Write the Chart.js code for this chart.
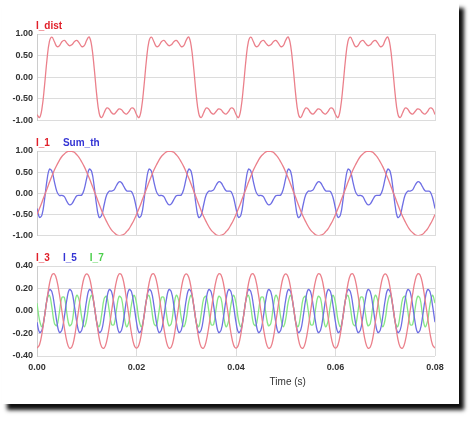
<!DOCTYPE html>
<html lang="en">
<head>
  <meta charset="UTF-8" />
  <title>Harmonic decomposition</title>
  <script src="https://cdn.jsdelivr.net/npm/chart.js"></script>
  <style>
    body { margin: 0; background: #fff; }
    .panel {
      position: absolute; left: 2px; top: 2px; width: 457px; height: 402px;
      background: #fff; box-shadow: 5px 6px 4px #101010;
    }
    canvas { position: absolute; left: 0; filter: blur(0.45px); }
    #c1 { top: 0; }
    #c2 { top: 130px; }
    #c3 { top: 245px; }
  </style>
</head>
<body>
  <div class="panel"></div>
  <canvas id="c1" width="474" height="130"></canvas>
  <canvas id="c2" width="474" height="115"></canvas>
  <canvas id="c3" width="474" height="165"></canvas>

  <script>
    // sample times (s)
    const time = [
      0,0.0005,0.001,0.0015,0.002,0.0025,0.003,0.0035,0.004,0.0045,0.005,0.0055,0.006,0.0065,0.007,0.0075,0.008,0.0085,0.009,0.0095,0.01,0.0105,0.011,0.0115,0.012,0.0125,0.013,0.0135,0.014,0.0145,0.015,0.0155,0.016,0.0165,0.017,0.0175,0.018,0.0185,0.019,0.0195,
      0.02,0.0205,0.021,0.0215,0.022,0.0225,0.023,0.0235,0.024,0.0245,0.025,0.0255,0.026,0.0265,0.027,0.0275,0.028,0.0285,0.029,0.0295,0.03,0.0305,0.031,0.0315,0.032,0.0325,0.033,0.0335,0.034,0.0345,0.035,0.0355,0.036,0.0365,0.037,0.0375,0.038,0.0385,0.039,0.0395,
      0.04,0.0405,0.041,0.0415,0.042,0.0425,0.043,0.0435,0.044,0.0445,0.045,0.0455,0.046,0.0465,0.047,0.0475,0.048,0.0485,0.049,0.0495,0.05,0.0505,0.051,0.0515,0.052,0.0525,0.053,0.0535,0.054,0.0545,0.055,0.0555,0.056,0.0565,0.057,0.0575,0.058,0.0585,0.059,0.0595,
      0.06,0.0605,0.061,0.0615,0.062,0.0625,0.063,0.0635,0.064,0.0645,0.065,0.0655,0.066,0.0665,0.067,0.0675,0.068,0.0685,0.069,0.0695,0.07,0.0705,0.071,0.0715,0.072,0.0725,0.073,0.0735,0.074,0.0745,0.075,0.0755,0.076,0.0765,0.077,0.0775,0.078,0.0785,0.079,0.0795,
      0.08
    ];

    const iDist = [
      -0.86,-0.93,-0.72,-0.21,0.40,0.83,0.93,0.82,0.71,0.73,0.82,0.85,0.79,0.73,0.75,0.82,0.85,0.79,0.71,0.73,0.86,0.93,0.72,0.21,-0.40,-0.83,-0.93,-0.82,-0.71,-0.73,-0.82,-0.85,-0.79,-0.73,-0.75,-0.82,-0.85,-0.79,-0.71,-0.73,
      -0.86,-0.93,-0.72,-0.21,0.40,0.83,0.93,0.82,0.71,0.73,0.82,0.85,0.79,0.73,0.75,0.82,0.85,0.79,0.71,0.73,0.86,0.93,0.72,0.21,-0.40,-0.83,-0.93,-0.82,-0.71,-0.73,-0.82,-0.85,-0.79,-0.73,-0.75,-0.82,-0.85,-0.79,-0.71,-0.73,
      -0.86,-0.93,-0.72,-0.21,0.40,0.83,0.93,0.82,0.71,0.73,0.82,0.85,0.79,0.73,0.75,0.82,0.85,0.79,0.71,0.73,0.86,0.93,0.72,0.21,-0.40,-0.83,-0.93,-0.82,-0.71,-0.73,-0.82,-0.85,-0.79,-0.73,-0.75,-0.82,-0.85,-0.79,-0.71,-0.73,
      -0.86,-0.93,-0.72,-0.21,0.40,0.83,0.93,0.82,0.71,0.73,0.82,0.85,0.79,0.73,0.75,0.82,0.85,0.79,0.71,0.73,0.86,0.93,0.72,0.21,-0.40,-0.83,-0.93,-0.82,-0.71,-0.73,-0.82,-0.85,-0.79,-0.73,-0.75,-0.82,-0.85,-0.79,-0.71,-0.73,
      -0.86
    ];

    const i1 = [
      -0.50,-0.36,-0.21,-0.05,0.10,0.26,0.41,0.55,0.67,0.78,0.87,0.93,0.98,1.00,0.99,0.97,0.91,0.84,0.74,0.63,0.50,0.36,0.21,0.05,-0.10,-0.26,-0.41,-0.55,-0.67,-0.78,-0.87,-0.93,-0.98,-1.00,-0.99,-0.97,-0.91,-0.84,-0.74,-0.63,
      -0.50,-0.36,-0.21,-0.05,0.10,0.26,0.41,0.55,0.67,0.78,0.87,0.93,0.98,1.00,0.99,0.97,0.91,0.84,0.74,0.63,0.50,0.36,0.21,0.05,-0.10,-0.26,-0.41,-0.55,-0.67,-0.78,-0.87,-0.93,-0.98,-1.00,-0.99,-0.97,-0.91,-0.84,-0.74,-0.63,
      -0.50,-0.36,-0.21,-0.05,0.10,0.26,0.41,0.55,0.67,0.78,0.87,0.93,0.98,1.00,0.99,0.97,0.91,0.84,0.74,0.63,0.50,0.36,0.21,0.05,-0.10,-0.26,-0.41,-0.55,-0.67,-0.78,-0.87,-0.93,-0.98,-1.00,-0.99,-0.97,-0.91,-0.84,-0.74,-0.63,
      -0.50,-0.36,-0.21,-0.05,0.10,0.26,0.41,0.55,0.67,0.78,0.87,0.93,0.98,1.00,0.99,0.97,0.91,0.84,0.74,0.63,0.50,0.36,0.21,0.05,-0.10,-0.26,-0.41,-0.55,-0.67,-0.78,-0.87,-0.93,-0.98,-1.00,-0.99,-0.97,-0.91,-0.84,-0.74,-0.63,
      -0.50
    ];

    const sumTh = [
      -0.36,-0.57,-0.51,-0.16,0.30,0.57,0.52,0.27,0.04,-0.05,-0.05,-0.08,-0.19,-0.27,-0.25,-0.15,-0.06,-0.05,-0.04,0.10,0.36,0.57,0.51,0.16,-0.30,-0.57,-0.52,-0.27,-0.04,0.05,0.05,0.08,0.19,0.27,0.25,0.15,0.06,0.05,0.04,-0.10,
      -0.36,-0.57,-0.51,-0.16,0.30,0.57,0.52,0.27,0.04,-0.05,-0.05,-0.08,-0.19,-0.27,-0.25,-0.15,-0.06,-0.05,-0.04,0.10,0.36,0.57,0.51,0.16,-0.30,-0.57,-0.52,-0.27,-0.04,0.05,0.05,0.08,0.19,0.27,0.25,0.15,0.06,0.05,0.04,-0.10,
      -0.36,-0.57,-0.51,-0.16,0.30,0.57,0.52,0.27,0.04,-0.05,-0.05,-0.08,-0.19,-0.27,-0.25,-0.15,-0.06,-0.05,-0.04,0.10,0.36,0.57,0.51,0.16,-0.30,-0.57,-0.52,-0.27,-0.04,0.05,0.05,0.08,0.19,0.27,0.25,0.15,0.06,0.05,0.04,-0.10,
      -0.36,-0.57,-0.51,-0.16,0.30,0.57,0.52,0.27,0.04,-0.05,-0.05,-0.08,-0.19,-0.27,-0.25,-0.15,-0.06,-0.05,-0.04,0.10,0.36,0.57,0.51,0.16,-0.30,-0.57,-0.52,-0.27,-0.04,0.05,0.05,0.08,0.19,0.27,0.25,0.15,0.06,0.05,0.04,-0.10,
      -0.36
    ];

    const i3 = [
      -0.33,-0.30,-0.20,-0.05,0.10,0.24,0.32,0.33,0.27,0.15,0.00,-0.15,-0.27,-0.33,-0.32,-0.24,-0.10,0.05,0.20,0.30,0.33,0.30,0.20,0.05,-0.10,-0.24,-0.32,-0.33,-0.27,-0.15,0.00,0.15,0.27,0.33,0.32,0.24,0.10,-0.05,-0.20,-0.30,
      -0.33,-0.30,-0.20,-0.05,0.10,0.24,0.32,0.33,0.27,0.15,0.00,-0.15,-0.27,-0.33,-0.32,-0.24,-0.10,0.05,0.20,0.30,0.33,0.30,0.20,0.05,-0.10,-0.24,-0.32,-0.33,-0.27,-0.15,0.00,0.15,0.27,0.33,0.32,0.24,0.10,-0.05,-0.20,-0.30,
      -0.33,-0.30,-0.20,-0.05,0.10,0.24,0.32,0.33,0.27,0.15,0.00,-0.15,-0.27,-0.33,-0.32,-0.24,-0.10,0.05,0.20,0.30,0.33,0.30,0.20,0.05,-0.10,-0.24,-0.32,-0.33,-0.27,-0.15,0.00,0.15,0.27,0.33,0.32,0.24,0.10,-0.05,-0.20,-0.30,
      -0.33,-0.30,-0.20,-0.05,0.10,0.24,0.32,0.33,0.27,0.15,0.00,-0.15,-0.27,-0.33,-0.32,-0.24,-0.10,0.05,0.20,0.30,0.33,0.30,0.20,0.05,-0.10,-0.24,-0.32,-0.33,-0.27,-0.15,0.00,0.15,0.27,0.33,0.32,0.24,0.10,-0.05,-0.20,-0.30,
      -0.33
    ];

    const i5 = [
      -0.10,-0.19,-0.17,-0.05,0.10,0.19,0.17,0.05,-0.10,-0.19,-0.17,-0.05,0.10,0.19,0.17,0.05,-0.10,-0.19,-0.17,-0.05,0.10,0.19,0.17,0.05,-0.10,-0.19,-0.17,-0.05,0.10,0.19,0.17,0.05,-0.10,-0.19,-0.17,-0.05,0.10,0.19,0.17,0.05,
      -0.10,-0.19,-0.17,-0.05,0.10,0.19,0.17,0.05,-0.10,-0.19,-0.17,-0.05,0.10,0.19,0.17,0.05,-0.10,-0.19,-0.17,-0.05,0.10,0.19,0.17,0.05,-0.10,-0.19,-0.17,-0.05,0.10,0.19,0.17,0.05,-0.10,-0.19,-0.17,-0.05,0.10,0.19,0.17,0.05,
      -0.10,-0.19,-0.17,-0.05,0.10,0.19,0.17,0.05,-0.10,-0.19,-0.17,-0.05,0.10,0.19,0.17,0.05,-0.10,-0.19,-0.17,-0.05,0.10,0.19,0.17,0.05,-0.10,-0.19,-0.17,-0.05,0.10,0.19,0.17,0.05,-0.10,-0.19,-0.17,-0.05,0.10,0.19,0.17,0.05,
      -0.10,-0.19,-0.17,-0.05,0.10,0.19,0.17,0.05,-0.10,-0.19,-0.17,-0.05,0.10,0.19,0.17,0.05,-0.10,-0.19,-0.17,-0.05,0.10,0.19,0.17,0.05,-0.10,-0.19,-0.17,-0.05,0.10,0.19,0.17,0.05,-0.10,-0.19,-0.17,-0.05,0.10,0.19,0.17,0.05,
      -0.10
    ];

    const i7 = [
      0.07,-0.08,-0.14,-0.05,0.10,0.14,0.03,-0.11,-0.13,-0.01,0.12,0.12,-0.02,-0.13,-0.11,0.04,0.14,0.09,-0.06,-0.14,-0.07,0.08,0.14,0.05,-0.10,-0.14,-0.03,0.11,0.13,0.01,-0.12,-0.12,0.02,0.13,0.11,-0.04,-0.14,-0.09,0.06,0.14,
      0.07,-0.08,-0.14,-0.05,0.10,0.14,0.03,-0.11,-0.13,-0.01,0.12,0.12,-0.02,-0.13,-0.11,0.04,0.14,0.09,-0.06,-0.14,-0.07,0.08,0.14,0.05,-0.10,-0.14,-0.03,0.11,0.13,0.01,-0.12,-0.12,0.02,0.13,0.11,-0.04,-0.14,-0.09,0.06,0.14,
      0.07,-0.08,-0.14,-0.05,0.10,0.14,0.03,-0.11,-0.13,-0.01,0.12,0.12,-0.02,-0.13,-0.11,0.04,0.14,0.09,-0.06,-0.14,-0.07,0.08,0.14,0.05,-0.10,-0.14,-0.03,0.11,0.13,0.01,-0.12,-0.12,0.02,0.13,0.11,-0.04,-0.14,-0.09,0.06,0.14,
      0.07,-0.08,-0.14,-0.05,0.10,0.14,0.03,-0.11,-0.13,-0.01,0.12,0.12,-0.02,-0.13,-0.11,0.04,0.14,0.09,-0.06,-0.14,-0.07,0.08,0.14,0.05,-0.10,-0.14,-0.03,0.11,0.13,0.01,-0.12,-0.12,0.02,0.13,0.11,-0.04,-0.14,-0.09,0.06,0.14,
      0.07
    ];

    const xTicks = [0, 0.02, 0.04, 0.06, 0.08];
    const yTicksBig = [-1, -0.5, 0, 0.5, 1];
    const yTicksSmall = [-0.4, -0.2, 0, 0.2, 0.4];
    const xTitle = 'Time (s)';

    const RED = '#eb808b', BLUE = '#6e6ee4', GREEN = '#86e686';
    const GRID = '#dcdcdc';
    const TICK_FONT = { family: '"Liberation Sans", Arial, sans-serif', size: 9, weight: 'bold' };

    const pts = arr => time.map((t, i) => ({ x: t, y: arr[i] }));
    const line = (label, arr, color, textColor) => ({
      label, data: pts(arr), borderColor: color, labelColor: textColor,
      borderWidth: 1.3, pointRadius: 0, tension: 0.4, fill: false
    });

    // coloured series names above each plot, like the original
    const seriesLabels = {
      id: 'seriesLabels',
      afterDraw(chart) {
        const { ctx, chartArea } = chart;
        let x = chartArea.left - 1;
        ctx.save();
        ctx.font = 'bold 10px "Liberation Sans", Arial, sans-serif';
        ctx.textBaseline = 'middle';
        chart.data.datasets.forEach(ds => {
          ctx.fillStyle = ds.labelColor;
          ctx.fillText(ds.label, x, chartArea.top - 8);
          x += ctx.measureText(ds.label).width + 13;
        });
        ctx.restore();
      }
    };

    const timeTitle = {
      id: 'timeTitle',
      afterDraw(chart) {
        if (!chart.options.showTitle) return;
        const { ctx, chartArea } = chart;
        ctx.save();
        ctx.font = '10px "Liberation Sans", Arial, sans-serif';
        ctx.fillStyle = '#333';
        ctx.textAlign = 'center';
        ctx.textBaseline = 'middle';
        ctx.fillText(xTitle, chartArea.left + (chartArea.right - chartArea.left) * 0.63, chartArea.bottom + 26);
        ctx.restore();
      }
    };

    function makeChart(id, datasets, yTicks, padTop, padBottom, showX) {
      return new Chart(document.getElementById(id), {
        type: 'line',
        data: { datasets },
        plugins: [seriesLabels, timeTitle],
        options: {
          responsive: false,
          animation: false,
          showTitle: showX,
          layout: { padding: { top: padTop, bottom: padBottom, left: 4, right: 39 } },
          plugins: { legend: { display: false }, tooltip: { enabled: false } },
          scales: {
            x: {
              type: 'linear', min: 0, max: 0.08,
              afterBuildTicks: s => { s.ticks = xTicks.map(v => ({ value: v })); },
              afterFit: s => { s.height = showX ? 30 : 0; },
              grid: { color: GRID, drawTicks: false },
              border: { display: false },
              ticks: { display: showX, padding: 6, color: '#333', font: TICK_FONT,
                       callback: v => v.toFixed(2) }
            },
            y: {
              min: yTicks[0], max: yTicks[yTicks.length - 1],
              afterBuildTicks: s => { s.ticks = yTicks.map(v => ({ value: v })); },
              afterFit: s => { s.width = 33; },
              grid: { color: GRID, drawTicks: false },
              border: { color: '#cccccc' },
              ticks: { padding: 4, color: '#333', font: TICK_FONT,
                       callback: v => v.toFixed(2) }
            }
          }
        }
      });
    }

    makeChart('c1', [line('I_dist', iDist, RED, '#e0202a')], yTicksBig, 34, 5, false);
    makeChart('c2', [line('I_1', i1, RED, '#e0202a'), line('Sum_th', sumTh, BLUE, '#3434d4')], yTicksBig, 21, 6, false);
    makeChart('c3', [line('I_3', i3, RED, '#e0202a'), line('I_5', i5, BLUE, '#3434d4'), line('I_7', i7, GREEN, '#4ccf4c')], yTicksSmall, 21, 24, true);
  </script>
</body>
</html>
